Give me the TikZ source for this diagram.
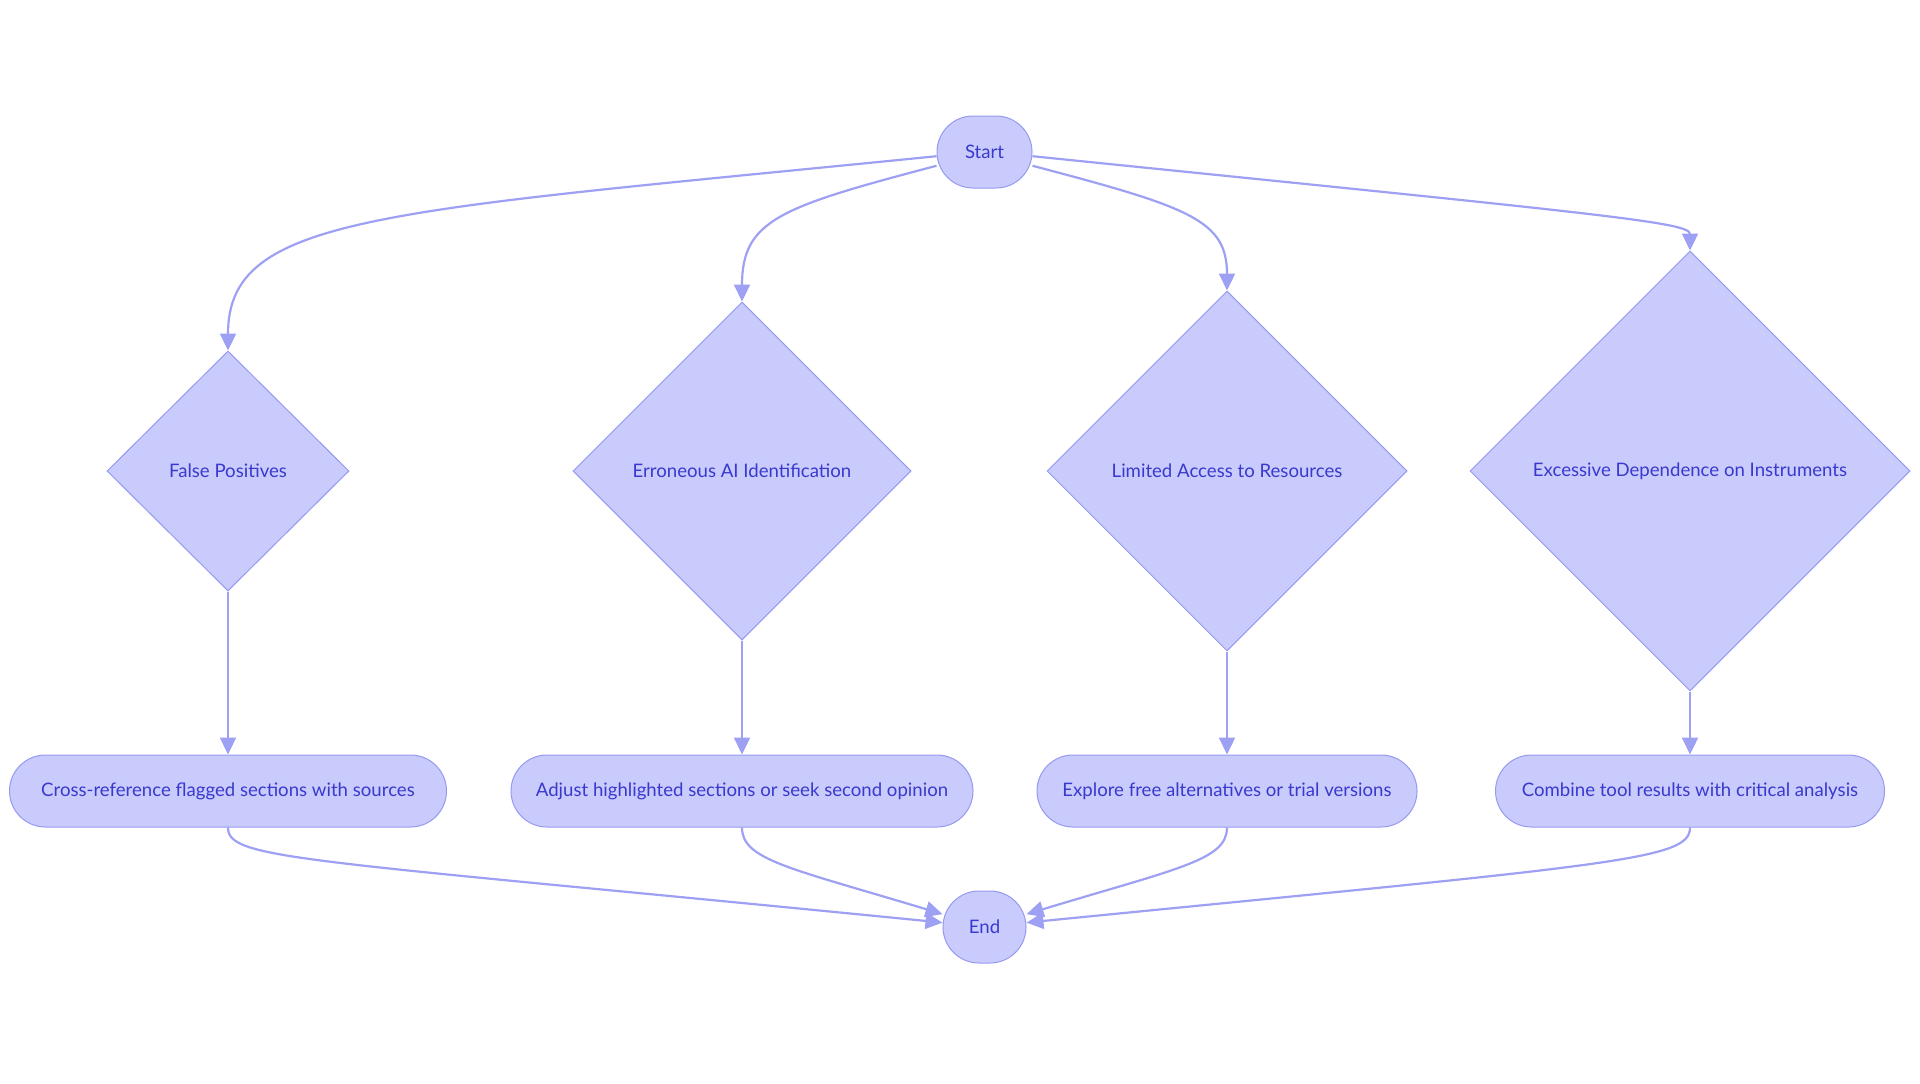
\documentclass[tikz,border=0pt]{standalone}
\usepackage{fontspec}
\setmainfont{Lato}
\usetikzlibrary{arrows.meta, shapes.geometric}
\definecolor{flowfill}{RGB}{201, 203, 253}
\definecolor{flowborder}{RGB}{150, 153, 240}
\definecolor{flowline}{RGB}{157, 160, 243}
\definecolor{flowtext}{RGB}{57, 57, 205}
\tikzset{
  base/.style={draw=flowborder, fill=flowfill, text=flowtext, line width=0.5pt, font=\fontsize{9.3}{11}\selectfont, inner sep=0pt},
  term/.style={base, rectangle, rounded corners=18pt, minimum height=36pt},
  fix/.style={base, rectangle, rounded corners=18pt, minimum height=36pt},
  issue/.style={base, diamond, aspect=1},
  arr/.style={-{Triangle[length=8.5pt, width=8pt]}, line width=1.1pt, flowline}
}

\begin{document}
\begin{tikzpicture}[x=0.5pt, y=-0.5pt]
                \useasboundingbox (0,0) rectangle (1920,1083);
                \node[term, minimum width=47.5pt] (start) at (984.5,152) {Start};
                \node[issue, minimum width=121pt, minimum height=120pt] (falsepos) at (228,471) {False Positives};
                \node[issue, minimum width=169pt, minimum height=169pt] (erroneous) at (742,471) {Erroneous AI Identification};
                \node[issue, minimum width=180pt, minimum height=180pt] (limited) at (1227,471) {Limited Access to Resources};
                \node[issue, minimum width=220pt, minimum height=220pt] (excessive) at (1690,471) {Excessive Dependence on Instruments};
                \node[fix, minimum width=218.5pt] (crossref) at (228,791) {Cross-reference flagged sections with sources};
                \node[fix, minimum width=231pt] (adjust) at (742,791) {Adjust highlighted sections or seek second opinion};
                \node[fix, minimum width=190pt] (explore) at (1227,791) {Explore free alternatives or trial versions};
                \node[fix, minimum width=194.5pt] (combine) at (1690,791) {Combine tool results with critical analysis};
                \node[term, minimum width=41.5pt] (end) at (984.5,927) {End};
                % start to issues
                \draw[arr] (start.185) .. controls (380,212) and (228,215) .. (falsepos.north);
                \draw[arr] (start.196) .. controls (780,207) and (742,220) .. (erroneous.north);
                \draw[arr] (start.344) .. controls (1189,207) and (1227,220) .. (limited.north);
                \draw[arr] (start.355) .. controls (1600,214) and (1690,222) .. (excessive.north);
                % issues to fixes
                \draw[arr] (falsepos) -- (crossref);
                \draw[arr] (erroneous) -- (adjust);
                \draw[arr] (limited) -- (explore);
                \draw[arr] (excessive) -- (combine);
                % fixes to end
                \draw[arr] (crossref.south) .. controls (228,860) and (300,859) .. (end.174);
                \draw[arr] (adjust.south) .. controls (742,860) and (790,868) .. (end.163);
                \draw[arr] (explore.south) .. controls (1227,860) and (1179,868) .. (end.17);
                \draw[arr] (combine.south) .. controls (1690,860) and (1620,864) .. (end.6);
            \end{tikzpicture}
\end{document}
